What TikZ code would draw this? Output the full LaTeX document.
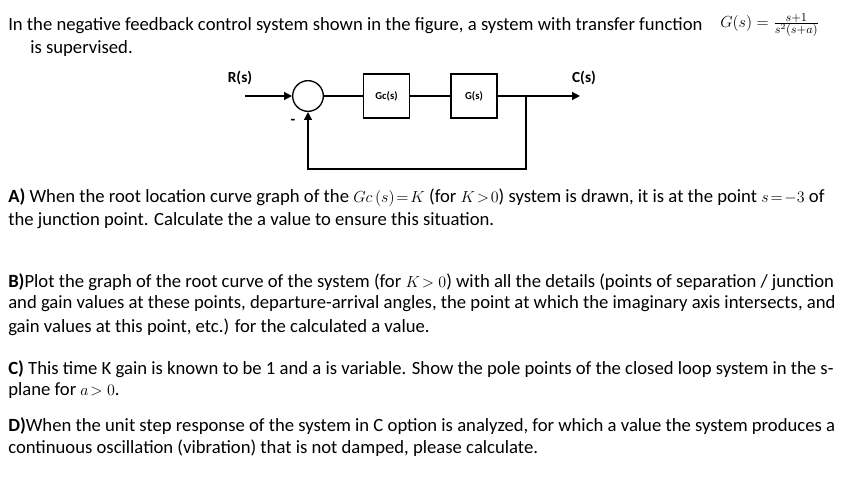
\documentclass[tikz,border=0pt]{standalone}
\usepackage{fontspec}
\setmainfont{Carlito}
\usetikzlibrary{arrows.meta}
\newcommand{\sm}[1]{{\fontsize{12.5}{14}\selectfont$#1$}}
\begin{document}
\begin{tikzpicture}[x=0.75pt,y=-0.75pt,
  txt/.style={anchor=west,inner sep=0pt,font=\fontsize{14}{16}\selectfont},
  blk/.style={draw,line width=1pt,minimum width=34.5pt,minimum height=33pt,inner sep=0pt,font=\bfseries\fontsize{8}{9}\selectfont},
  lbl/.style={inner sep=0pt,font=\bfseries\fontsize{11.5}{13}\selectfont},
  wire/.style={line width=1pt},
  arr/.style={wire,-{Triangle[length=6pt,width=6pt]}}]
\useasboundingbox (0,0) rectangle (866,481);
% header
\node[txt] (t1) at (8,26) {In the negative feedback control system shown in the figure, a system with transfer function};
\node[txt,font=\fontsize{12.5}{14}\selectfont] (t1m) at (720,25) {$G(s)=\frac{s+1}{s^2(s+a)}$};
\node[txt] (t2) at (30,49) {is supervised.};
% diagram
\node[lbl] (R) at (240,78) {R(s)};
\node[lbl] (C) at (584,78) {C(s)};
\coordinate (in) at (245,96);
\node[draw,circle,line width=1pt,minimum size=23pt,inner sep=0pt] (sum) at (308,96) {};
\node[blk] (gc) at (386.5,96) {Gc(s)};
\node[blk] (g) at (474,96) {G(s)};
\coordinate (br) at (526,96);
\coordinate (out) at (580,96);
\coordinate (bl) at (526,169);
\coordinate (bll) at (308,169);
\node[lbl] (minus) at (293,122) {-};
\draw[arr] (in) -- (sum);
\draw[wire] (sum) -- (gc);
\draw[wire] (gc) -- (g);
\draw[arr] (g) -- (out);
\draw[arr] (br) -- (bl) -- (bll) -- (sum.south);
% questions
\node[txt] (a1) at (8,198) {\textbf{A)} When the root location curve graph of the \sm{Gc\,(s)\!=\!K} (for \sm{K\!>\!0}) system is drawn, it is at the point \sm{s\!=\!-3} of};
\node[txt] (a2) at (8,221) {the junction point. Calculate the a value to ensure this situation.};
\node[txt] (b1) at (8,282) {\textbf{B)}Plot the graph of the root curve of the system (for \sm{K\!>0}) with all the details (points of separation / junction};
\node[txt] (b2) at (8,304) {and gain values at these points, departure-arrival angles, the point at which the imaginary axis intersects, and};
\node[txt] (b3) at (8,327) {gain values at this point, etc.) for the calculated a value.};
\node[txt] (c1) at (8,369) {\textbf{C)} This time K gain is known to be 1 and a is variable. Show the pole points of the closed loop system in the s-};
\node[txt] (c2) at (8,391) {plane for \sm{a\!>0}.};
\node[txt] (d1) at (8,426) {\textbf{D)}When the unit step response of the system in C option is analyzed, for which a value the system produces a};
\node[txt] (d2) at (8,448) {continuous oscillation (vibration) that is not damped, please calculate.};
\end{tikzpicture}
\end{document}
